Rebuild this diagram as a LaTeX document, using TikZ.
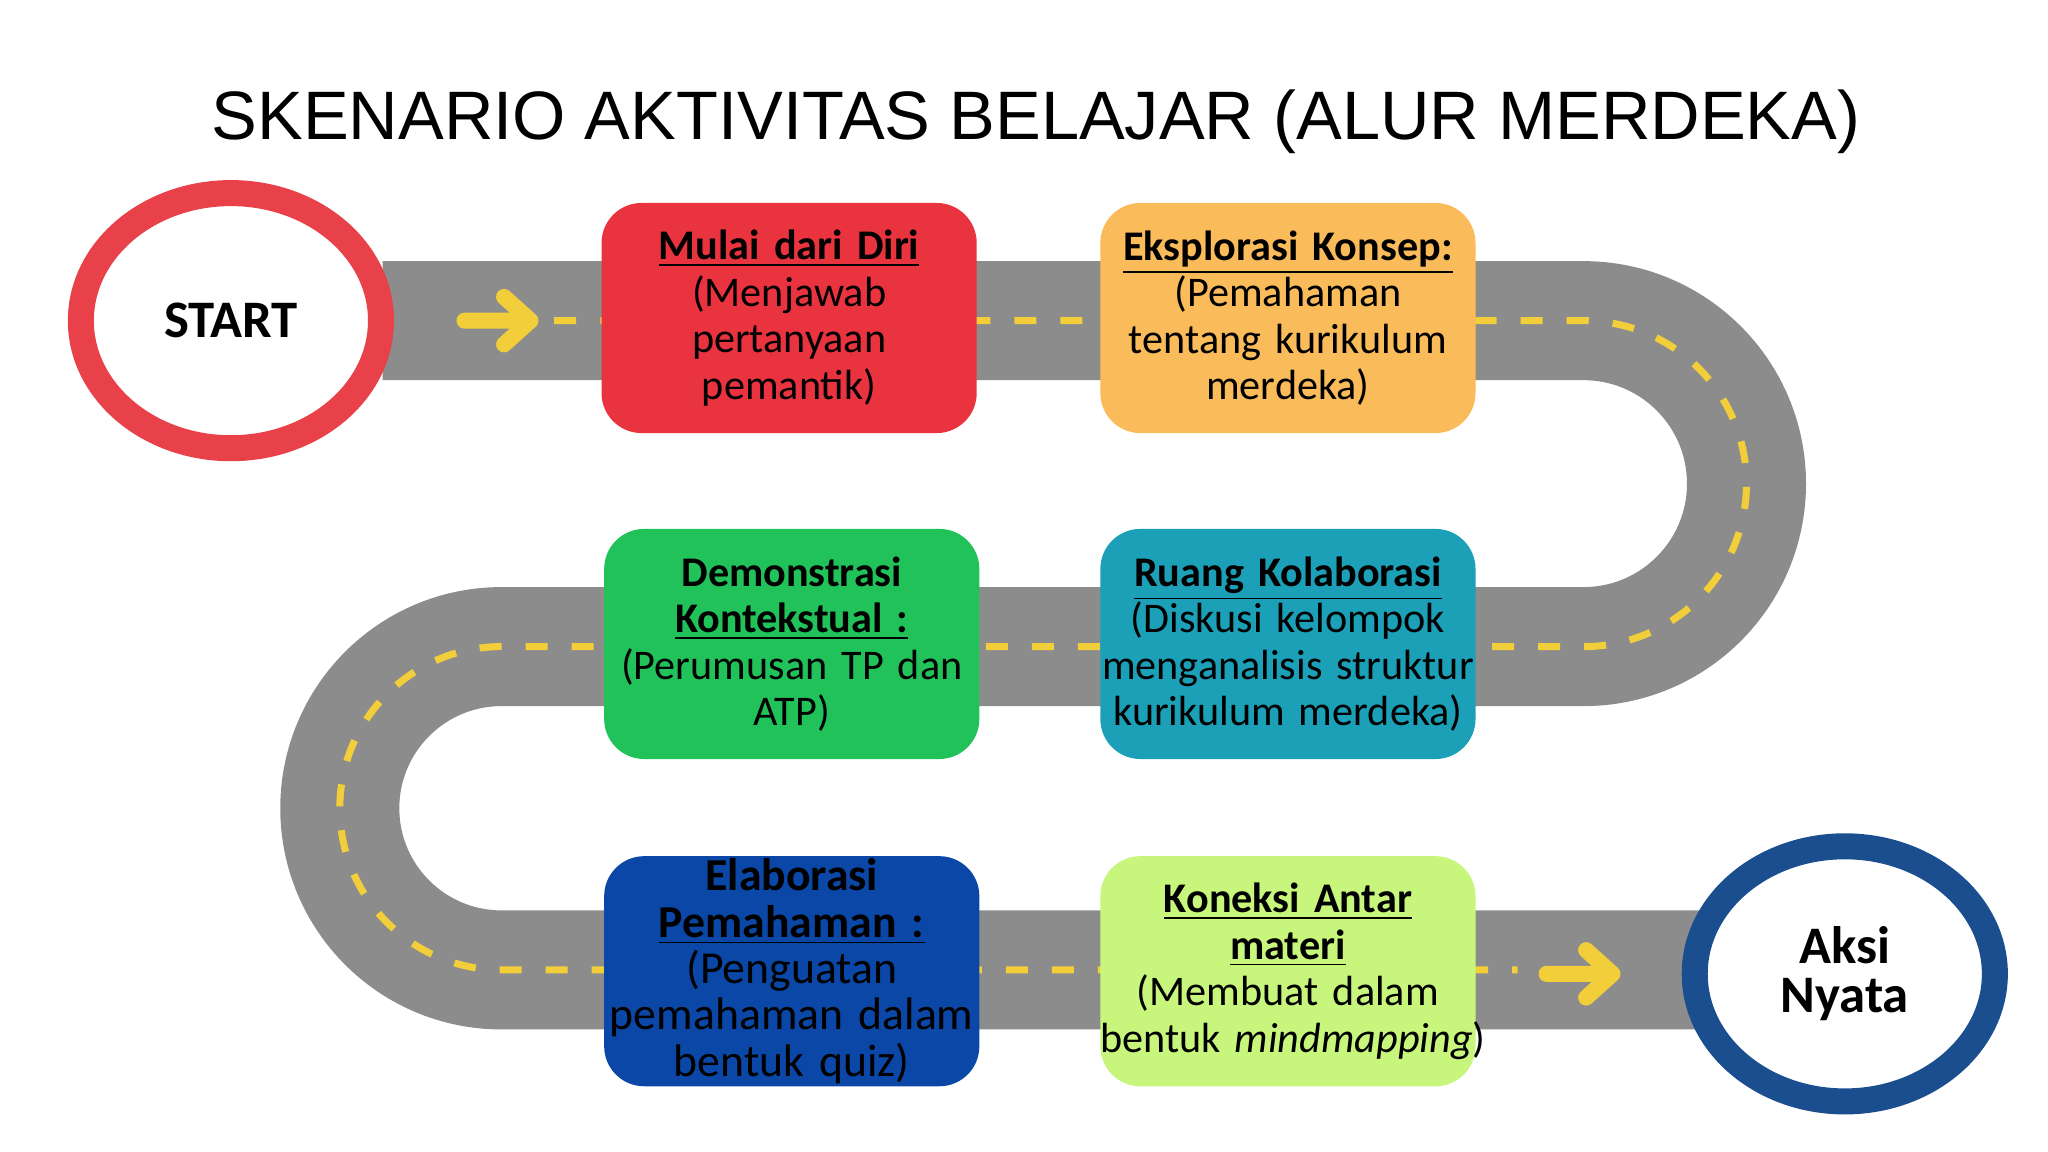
\documentclass[tikz,border=0pt]{standalone}
\usepackage{fontspec}
\setmainfont{Carlito}
\newfontfamily\titlefont{Liberation Sans}
\usetikzlibrary{positioning, shapes.geometric}
\definecolor{roadgray}{HTML}{8C8C8C}
\definecolor{lineyellow}{HTML}{F2CF3A}
\definecolor{boxred}{HTML}{E9343F}
\definecolor{boxorange}{HTML}{FABC5A}
\definecolor{boxgreen}{HTML}{22C25A}
\definecolor{boxteal}{HTML}{1BA0B8}
\definecolor{boxblue}{HTML}{0A47A6}
\definecolor{boxlime}{HTML}{C8F67C}
\definecolor{ringred}{HTML}{E8414A}
\definecolor{ringblue}{HTML}{1B4E8F}
\begin{document}
\begin{tikzpicture}[x=0.1319mm, y=-0.1319mm,
  stepbox/.style={rounded corners=4mm, minimum width=3.75cm, minimum height=2.3cm,
    text width=3.75cm, align=center, inner sep=0pt, font=\fontsize{12}{13.2}\selectfont},
  ring/.style={ellipse, draw, line width=2.6mm, fill=white, minimum width=3.0cm,
    minimum height=2.55cm, inner sep=0pt, font=\bfseries\fontsize{15}{14}\selectfont},
  arrowtip/.style={lineyellow, line width=1.6mm, line cap=round, line join=round}]
  \useasboundingbox (0,0) rectangle (1552,873);

  % Title
  \node (title) at (785,92) {\titlefont\fontsize{19.5}{22}\selectfont SKENARIO AKTIVITAS BELAJAR (ALUR MERDEKA)};

  % Road
  \draw[roadgray, line width=11.9mm]
    (290,243) -- (1200,243) arc(-90:90:123.5) -- (380,490) arc(-90:-270:122.5) -- (1310,735);
  \draw[lineyellow, line width=0.7mm, dash pattern=on 2.2mm off 2.4mm]
    (420,243) -- (1200,243) arc(-90:90:123.5) -- (380,490) arc(-90:-270:122.5) -- (1150,735);

  % Arrows on the road
  \draw[arrowtip] (352,243) -- (402,243) (382,225) -- (402,243) -- (382,261);
  \draw[arrowtip] (1172,738) -- (1222,738) (1202,720) -- (1222,738) -- (1202,756);

  % Start / end
  \node[ring, draw=ringred] (start) at (175,243) {START};
  \node[ring, draw=ringblue, align=center] (aksi) at (1398,738) {Aksi\\Nyata};

  % Steps
  \node[stepbox, fill=boxred] (diri) at (598,241)
    {\textbf{\underline{Mulai dari Diri}}\\(Menjawab\\pertanyaan\\pemantik)};
  \node[stepbox, fill=boxorange] (konsep) at (976,241)
    {\textbf{\underline{Eksplorasi Konsep:}}\\(Pemahaman\\tentang kurikulum\\merdeka)};
  \node[stepbox, fill=boxgreen] (demo) at (600,488)
    {\textbf{Demonstrasi}\\\textbf{\underline{Kontekstual :}}\\(Perumusan TP dan\\ATP)};
  \node[stepbox, fill=boxteal] (ruang) at (976,488)
    {\textbf{\underline{Ruang Kolaborasi}}\\(Diskusi kelompok\\menganalisis struktur\\kurikulum merdeka)};
  \node[stepbox, fill=boxblue, font=\fontsize{13}{13.2}\selectfont] (elab) at (600,736)
    {\textbf{Elaborasi}\\\textbf{\underline{Pemahaman :}}\\(Penguatan\\pemahaman dalam\\bentuk quiz)};
  \node[stepbox, fill=boxlime] (koneksi) at (976,736)
    {\textbf{\underline{Koneksi Antar}}\\\textbf{\underline{materi}}\\(Membuat dalam\\\mbox{bentuk \textit{mindmapping})}};
\end{tikzpicture}
\end{document}
